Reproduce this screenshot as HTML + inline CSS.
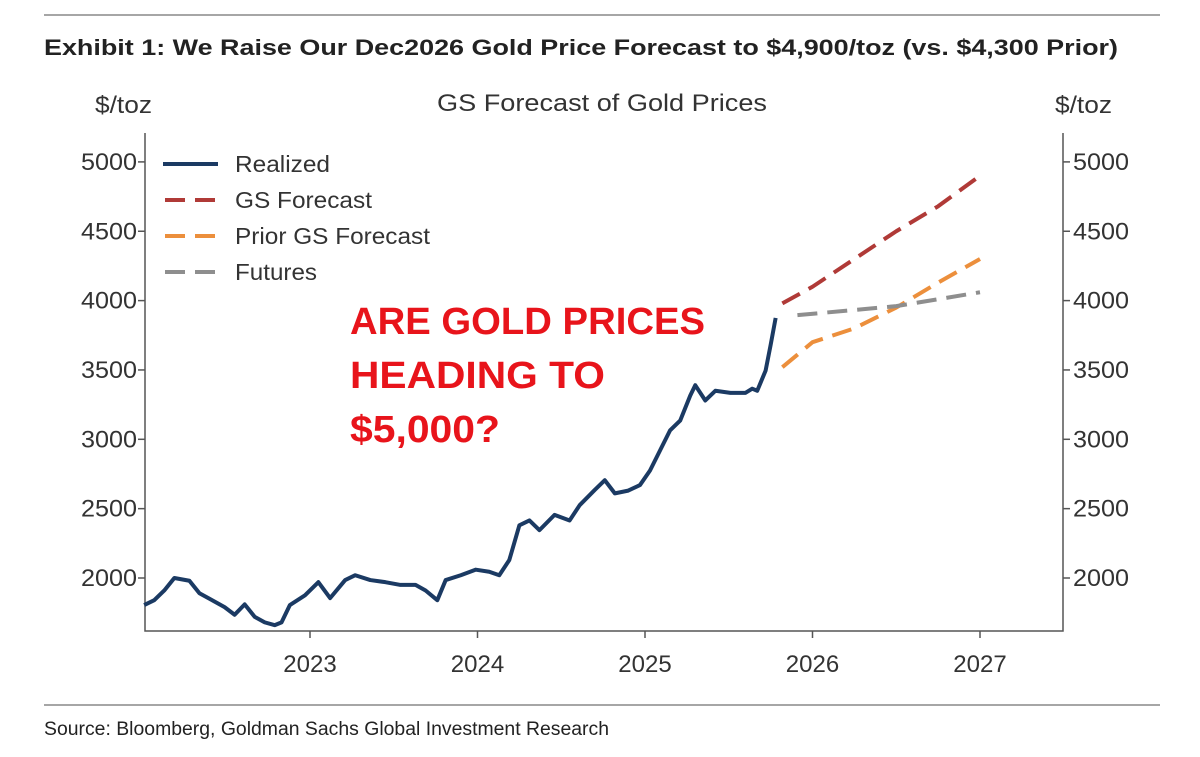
<!DOCTYPE html>
<html><head><meta charset="utf-8"><style>
body{margin:0;background:#fff;}
svg{display:block;font-family:"Liberation Sans",sans-serif;}
</style></head><body>
<svg id="chart" width="1200" height="757" viewBox="0 0 1200 757">
<line x1="44" y1="15" x2="1160" y2="15" stroke="#888" stroke-width="1.5"/>
<text x="44" y="55" font-size="22" font-weight="bold" fill="#222" textLength="1074" lengthAdjust="spacingAndGlyphs">Exhibit 1: We Raise Our Dec2026 Gold Price Forecast to $4,900/toz (vs. $4,300 Prior)</text>
<text x="437" y="111" font-size="24" fill="#333" textLength="330" lengthAdjust="spacingAndGlyphs">GS Forecast of Gold Prices</text>
<text x="95" y="113" font-size="24" fill="#333" textLength="57" lengthAdjust="spacingAndGlyphs">$/toz</text>
<text x="1055" y="113" font-size="24" fill="#333" textLength="57" lengthAdjust="spacingAndGlyphs">$/toz</text>
<g id="axes"></g>
<g id="series"></g>
<g>
<line x1="163" y1="164" x2="218" y2="164" stroke="#1b3a63" stroke-width="4"/>
<text x="235" y="172" font-size="23" fill="#333" textLength="95" lengthAdjust="spacingAndGlyphs">Realized</text>
<line x1="165" y1="200" x2="218" y2="200" stroke="#b03a37" stroke-width="4" stroke-dasharray="20,10"/>
<text x="235" y="208" font-size="23" fill="#333" textLength="137" lengthAdjust="spacingAndGlyphs">GS Forecast</text>
<line x1="165" y1="236" x2="218" y2="236" stroke="#ec8f3c" stroke-width="4" stroke-dasharray="20,10"/>
<text x="235" y="244" font-size="23" fill="#333" textLength="195" lengthAdjust="spacingAndGlyphs">Prior GS Forecast</text>
<line x1="165" y1="272" x2="218" y2="272" stroke="#8e8e8e" stroke-width="4" stroke-dasharray="20,10"/>
<text x="235" y="280" font-size="23" fill="#333" textLength="82" lengthAdjust="spacingAndGlyphs">Futures</text>
</g>
<g font-size="38" font-weight="bold" fill="#e8141b">
<text x="350" y="334" textLength="355" lengthAdjust="spacingAndGlyphs">ARE GOLD PRICES</text>
<text x="350" y="388" textLength="255" lengthAdjust="spacingAndGlyphs">HEADING TO</text>
<text x="350" y="442" textLength="150" lengthAdjust="spacingAndGlyphs">$5,000?</text>
</g>
<line x1="44" y1="705" x2="1160" y2="705" stroke="#888" stroke-width="1.5"/>
<text x="44" y="735" font-size="19" fill="#222" textLength="565" lengthAdjust="spacingAndGlyphs">Source: Bloomberg, Goldman Sachs Global Investment Research</text>
</svg>
<script>
const realizedDates=[2022.01,2022.07,2022.13,2022.19,2022.28,2022.34,2022.40,2022.49,2022.55,2022.61,2022.67,2022.73,2022.79,2022.83,2022.88,2022.97,2023.05,2023.12,2023.21,2023.27,2023.36,2023.45,2023.54,2023.63,2023.69,2023.76,2023.81,2023.90,2023.99,2024.07,2024.13,2024.19,2024.25,2024.31,2024.37,2024.46,2024.55,2024.61,2024.70,2024.76,2024.82,2024.90,2024.97,2025.03,2025.09,2025.15,2025.21,2025.27,2025.30,2025.36,2025.42,2025.51,2025.60,2025.64,2025.67,2025.72,2025.75,2025.78];
const realizedValues=[1805,1840,1910,2000,1980,1890,1850,1790,1735,1810,1720,1680,1660,1680,1805,1875,1970,1855,1985,2020,1985,1970,1950,1950,1910,1840,1985,2020,2060,2045,2020,2130,2380,2415,2345,2455,2415,2525,2635,2705,2610,2630,2670,2775,2920,3065,3135,3315,3390,3280,3350,3335,3335,3365,3350,3495,3680,3875];
const gsDates=[2025.82,2026.0,2026.25,2026.5,2026.75,2027.0];
const gsValues=[3980,4100,4300,4500,4680,4900];
const priorDates=[2025.82,2026.0,2026.25,2026.5,2026.75,2027.0];
const priorValues=[3520,3700,3800,3950,4130,4300];
const futuresDates=[2025.91,2026.5,2027.0];
const futuresValues=[3895,3960,4060];
const yTicks=[2000,2500,3000,3500,4000,4500,5000];
const xTicks=[2023,2024,2025,2026,2027];

const L=145,R=1063,T=133,B=631;
const x=d=>310+(d-2023)*167.5;
const y=v=>578-(v-2000)*0.1387;
const NS="http://www.w3.org/2000/svg";
const axes=document.getElementById('axes'),series=document.getElementById('series');
function mk(tag,attrs,parent){const e=document.createElementNS(NS,tag);for(const k in attrs)e.setAttribute(k,attrs[k]);parent.appendChild(e);return e;}
const frame=mk('path',{d:`M${L},${T}V${B}H${R}V${T}`,fill:'none',stroke:'#555','stroke-width':1.5},axes);


yTicks.forEach(v=>{
 const yy=y(v);
 mk('line',{x1:L-7,x2:L,y1:yy,y2:yy,stroke:'#555','stroke-width':1.5},axes);
 mk('line',{x1:R,x2:R+7,y1:yy,y2:yy,stroke:'#555','stroke-width':1.5},axes);
 const t1=mk('text',{x:L-8,y:yy+8,'font-size':24,fill:'#333','text-anchor':'end',textLength:56,lengthAdjust:'spacingAndGlyphs'},axes);t1.textContent=v;
 
 
 const t2=mk('text',{x:R+10,y:yy+8,'font-size':24,fill:'#333',textLength:56,lengthAdjust:'spacingAndGlyphs'},axes);t2.textContent=v;
 
 
});
xTicks.forEach(d=>{
 const xx=x(d);
 mk('line',{x1:xx,x2:xx,y1:B,y2:B+7,stroke:'#555','stroke-width':1.5},axes);
 const t=mk('text',{x:xx,y:B+41,'font-size':24,fill:'#333','text-anchor':'middle'},axes);t.textContent=d;
 
 
});
function line(ds,vs,color,dash,name){
 const p=mk('polyline',{points:ds.map((d,i)=>x(d)+','+y(vs[i])).join(' '),fill:'none',stroke:color,'stroke-width':4,'stroke-linejoin':'round','stroke-dasharray':dash},series);
 
 
}
line(realizedDates,realizedValues,'#1b3a63','none','realized-line');
line(gsDates,gsValues,'#b03a37','20,10','gs-forecast-line');
line(priorDates,priorValues,'#ec8f3c','20,10','prior-forecast-line');
line(futuresDates,futuresValues,'#8e8e8e','20,10','futures-line');
</script>
</body></html>
